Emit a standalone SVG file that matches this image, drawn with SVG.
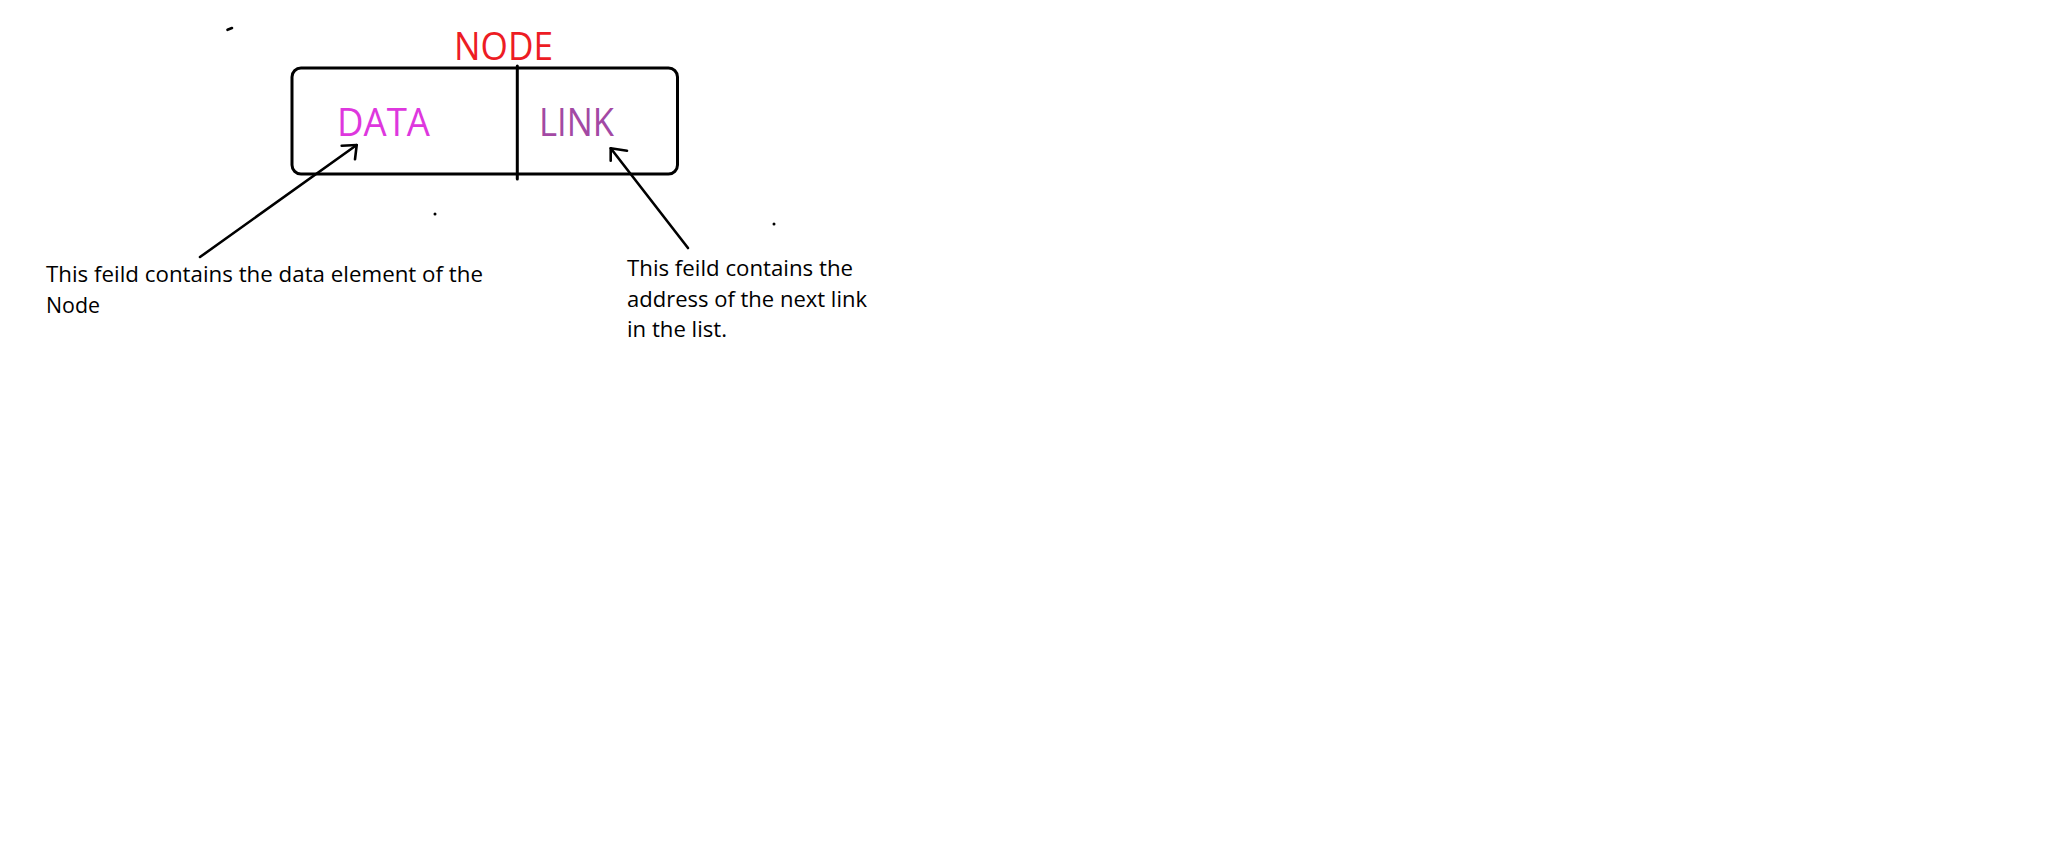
<svg xmlns="http://www.w3.org/2000/svg" width="2048" height="846" viewBox="0 0 2048 846">
  <style>
    .big { font-family: "Open Sans", "Liberation Sans", sans-serif; font-size: 39px; }
    .note { font-family: "Open Sans", "Liberation Sans", sans-serif; font-size: 22px; fill: #000000; }
    .stroke { fill: none; stroke: #000000; stroke-linecap: round; stroke-linejoin: round; }
  </style>
  <rect x="0" y="0" width="2048" height="846" fill="#ffffff"/>
  <g id="node">
    <text class="big" x="454" y="60" fill="#ED1C24" textLength="99" lengthAdjust="spacingAndGlyphs">NODE</text>
    <rect class="stroke" x="292" y="68" width="385.5" height="106" rx="9" stroke-width="3"/>
    <line class="stroke" x1="517.3" y1="66" x2="517.3" y2="179" stroke-width="3"/>
  </g>
  <g id="data-field">
    <text class="big" x="337" y="136" fill="#DE37DE" textLength="93" lengthAdjust="spacingAndGlyphs">DATA</text>
  </g>
  <g id="link-field">
    <text class="big" x="539" y="136" fill="#A349A4" textLength="75" lengthAdjust="spacingAndGlyphs">LINK</text>
  </g>
  <g id="data-note">
    <text class="note" x="46" y="281.7" textLength="437" lengthAdjust="spacingAndGlyphs">This feild contains the data element of the</text>
    <text class="note" x="46" y="313.3" textLength="54" lengthAdjust="spacingAndGlyphs">Node</text>
  </g>
  <g id="link-note">
    <text class="note" x="627" y="275.7" textLength="226" lengthAdjust="spacingAndGlyphs">This feild contains the</text>
    <text class="note" x="627" y="306.7" textLength="240" lengthAdjust="spacingAndGlyphs">address of the next link</text>
    <text class="note" x="627" y="337" textLength="100" lengthAdjust="spacingAndGlyphs">in the list.</text>
  </g>
  <g id="connectors">
    <line class="stroke" x1="200" y1="257" x2="356.7" y2="145" stroke-width="2.6"/>
    <polyline class="stroke" points="341.7,145.7 356.7,145 355,159.3" stroke-width="2.6"/>
    <line class="stroke" x1="688" y1="248" x2="610.7" y2="148.3" stroke-width="2.6"/>
    <polyline class="stroke" points="627,150.7 610.7,148.3 610.7,160.7" stroke-width="2.6"/>
  </g>
  <g id="marks">
    <line class="stroke" x1="227.5" y1="29.8" x2="232" y2="28" stroke-width="2.6"/>
    <circle cx="435" cy="214" r="1.5" fill="#000000"/>
    <circle cx="774" cy="224" r="1.5" fill="#000000"/>
  </g>
</svg>
